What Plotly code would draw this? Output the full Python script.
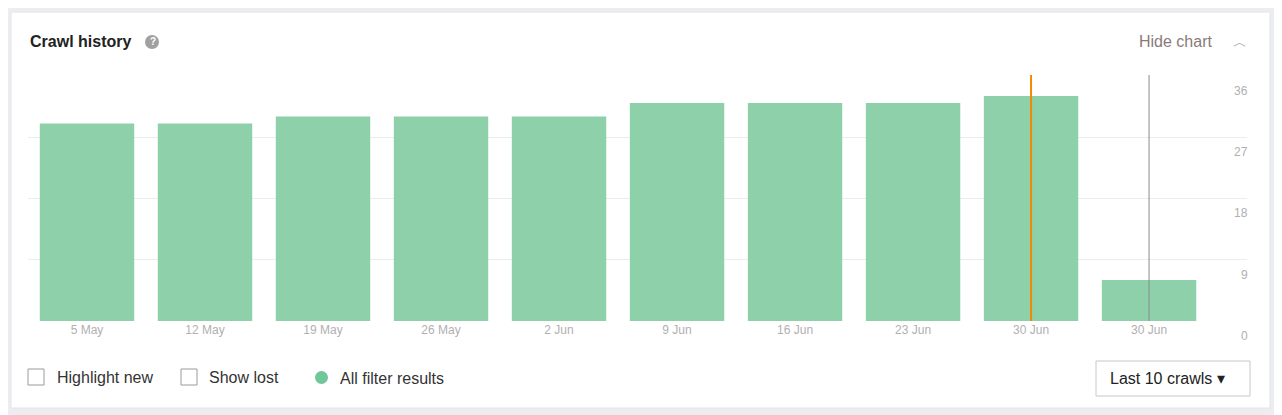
import plotly.graph_objects as go

# Datos del gráfico
dates = ['5 May', '12 May', '19 May', '26 May', '2 Jun', '9 Jun', '16 Jun', '23 Jun', '30 Jun', '30 Jun']
counts = [29, 29, 30, 30, 30, 32, 32, 32, 33, 6]
y_ticks = [0, 9, 18, 27, 36]

W, H = 1282, 415
OFF = 8  # margen del body en la captura
px = lambda x: (x - OFF) / W
py = lambda y: 1 - (y - OFF) / H

xs = list(range(len(dates)))

fig = go.Figure(go.Bar(
    x=xs, y=counts, width=0.8,
    marker=dict(color='#8dd0a9', line=dict(width=0)),
    hoverinfo='skip'
))

shapes = [
    # tarjeta blanca
    dict(type='rect', xref='paper', yref='paper', x0=px(11), x1=px(1270), y0=py(408), y1=py(12),
         fillcolor='white', line=dict(color='#e2e4e8', width=1), layer='below'),
    # lineas verticales
    dict(type='line', xref='x', yref='paper', x0=8, x1=8, y0=py(321), y1=py(75),
         line=dict(color='#f28a00', width=2)),
    dict(type='line', xref='x', yref='paper', x0=9, x1=9, y0=py(321), y1=py(75),
         line=dict(color='#8a8a8a', width=1)),
    # casillas
    dict(type='rect', xref='paper', yref='paper', x0=px(28), x1=px(44), y0=py(385), y1=py(369),
         line=dict(color='#9a9a9a', width=1), fillcolor='white'),
    dict(type='rect', xref='paper', yref='paper', x0=px(181), x1=px(197), y0=py(385), y1=py(369),
         line=dict(color='#9a9a9a', width=1), fillcolor='white'),
    dict(type='circle', xref='paper', yref='paper', x0=px(315), x1=px(328), y0=py(384), y1=py(371),
         line=dict(width=0), fillcolor='#6fc79a'),
    # icono de ayuda
    dict(type='circle', xref='paper', yref='paper', x0=px(145), x1=px(159), y0=py(49), y1=py(35),
         line=dict(width=0), fillcolor='#a0a0a0'),
    # desplegable
    dict(type='rect', xref='paper', yref='paper', x0=px(1096), x1=px(1250), y0=py(396), y1=py(361),
         line=dict(color='#c8c8c8', width=1), fillcolor='white'),
]

annotations = [
    dict(text='<b>Crawl history</b>', x=px(28), y=py(42), font=dict(size=16, color='#222')),
    dict(text='<b>?</b>', x=px(148), y=py(42), font=dict(size=10, color='white')),
    dict(text='Hide chart', x=px(1137), y=py(42), font=dict(size=16, color='#8a7a7a')),
    dict(text='︿', x=px(1231), y=py(42), font=dict(size=14, color='#aaa')),
    dict(text='Highlight new', x=px(55), y=py(377), font=dict(size=16, color='#333')),
    dict(text='Show lost', x=px(207), y=py(377), font=dict(size=16, color='#333')),
    dict(text='All filter results', x=px(338), y=py(378), font=dict(size=16, color='#333')),
    dict(text='Last 10 crawls ▾', x=px(1108), y=py(378), font=dict(size=16, color='#222')),
]
for a in annotations:
    a.update(xref='paper', yref='paper', xanchor='left', yanchor='middle', showarrow=False)

# etiquetas del eje y a la derecha, debajo de la linea
for t in y_ticks:
    annotations.append(dict(text=str(t), x=px(1250), xref='paper', y=t, yref='y',
                            xanchor='right', yanchor='top', yshift=-6, showarrow=False,
                            font=dict(size=12, color='#b0b0b0')))

fig.update_layout(
    width=W, height=H,
    margin=dict(l=0, r=0, t=0, b=0),
    paper_bgcolor='#ebedf0', plot_bgcolor='rgba(0,0,0,0)',
    font=dict(family='Arial, Liberation Sans, sans-serif'),
    showlegend=False,
    shapes=shapes, annotations=annotations,
    xaxis=dict(domain=[px(28), px(1247)], range=[-0.5, 9.83],
               tickvals=xs, ticktext=dates, showgrid=False, zeroline=False,
               tickfont=dict(size=12, color='#b0b0b0'), ticks=''),
    yaxis=dict(domain=[py(321), py(75)], range=[0, 36.1], tickvals=y_ticks,
               showticklabels=False, gridcolor='#ececec', zeroline=False),
)

fig.write_html("out.html")
